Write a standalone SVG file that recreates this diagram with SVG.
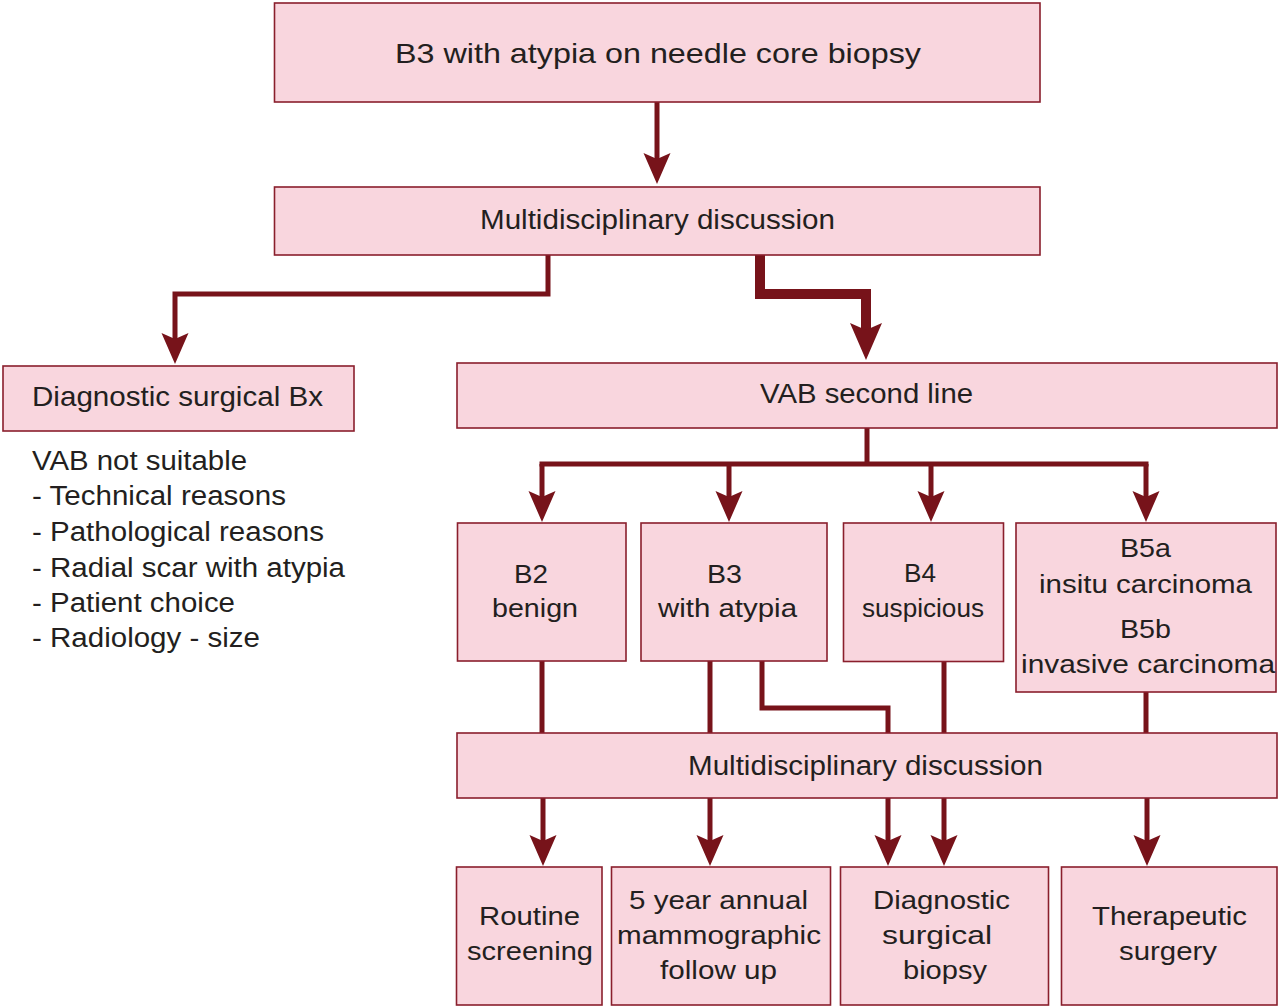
<svg xmlns="http://www.w3.org/2000/svg" width="1280" height="1008" viewBox="0 0 1280 1008">
<style>
.box{fill:#f9d6de;stroke:#8a1f2c;stroke-width:1.6}
.t{font-family:"Liberation Sans",Arial,sans-serif;fill:#231f20;text-anchor:middle}
.tl{font-family:"Liberation Sans",Arial,sans-serif;fill:#231f20;font-size:27px}
.c{fill:none;stroke:#77131a;stroke-width:5;stroke-linejoin:miter}
.ct{fill:none;stroke:#77131a;stroke-width:10;stroke-linejoin:miter}
</style>
<defs>
<marker id="ah" markerUnits="userSpaceOnUse" viewBox="0 -14 32 28" markerWidth="32" markerHeight="28" refX="8" refY="0" orient="auto">
<path d="M0,-13.5 L31,0 L0,13.5 L6,0 Z" fill="#77131a"/>
</marker>
<marker id="ahb" markerUnits="userSpaceOnUse" viewBox="0 -17 38 34" markerWidth="38" markerHeight="34" refX="9" refY="0" orient="auto">
<path d="M0,-16 L37,0 L0,16 L7,0 Z" fill="#77131a"/>
</marker>
</defs>
<rect width="1280" height="1008" fill="#ffffff"/>

<g id="connectors">
<path class="c" d="M657,102 V161" marker-end="url(#ah)"/>
<path class="c" d="M548,255 V294 H175 V341" marker-end="url(#ah)"/>
<path class="ct" d="M760,255 V294 H866 V332" marker-end="url(#ahb)"/>
<path class="c" d="M867,428 V464"/>
<path class="c" d="M542,464 H1146" stroke-linecap="square"/>
<path class="c" d="M542,464 V499" marker-end="url(#ah)"/>
<path class="c" d="M729,464 V499" marker-end="url(#ah)"/>
<path class="c" d="M931,464 V499" marker-end="url(#ah)"/>
<path class="c" d="M1146,464 V499" marker-end="url(#ah)"/>
<path class="c" d="M542,661 V733"/>
<path class="c" d="M710,661 V733"/>
<path class="c" d="M762,661 V708 H888 V733"/>
<path class="c" d="M944,661 V733"/>
<path class="c" d="M1146,692 V733"/>
<path class="c" d="M543,798 V843" marker-end="url(#ah)"/>
<path class="c" d="M710,798 V843" marker-end="url(#ah)"/>
<path class="c" d="M888,798 V843" marker-end="url(#ah)"/>
<path class="c" d="M944,798 V843" marker-end="url(#ah)"/>
<path class="c" d="M1147,798 V843" marker-end="url(#ah)"/>
</g>

<g id="n-start">
<rect class="box" x="274.5" y="3" width="765.5" height="99"/>
<text class="t" x="658" y="63" font-size="28.5" textLength="526" lengthAdjust="spacingAndGlyphs">B3 with atypia on needle core biopsy</text>
</g>

<g id="n-mdt1">
<rect class="box" x="274.5" y="187" width="765.5" height="68"/>
<text class="t" x="657.5" y="229" font-size="27" textLength="355" lengthAdjust="spacingAndGlyphs">Multidisciplinary discussion</text>
</g>

<g id="n-diagbx">
<rect class="box" x="3" y="366" width="351" height="65"/>
<text class="t" x="177.5" y="406" font-size="28" textLength="291" lengthAdjust="spacingAndGlyphs">Diagnostic surgical Bx</text>
</g>

<g id="n-notsuitable">
<text class="tl" x="32" y="470" textLength="215" lengthAdjust="spacingAndGlyphs">VAB not suitable</text>
<text class="tl" x="32" y="505" textLength="254" lengthAdjust="spacingAndGlyphs">- Technical reasons</text>
<text class="tl" x="32" y="541" textLength="292" lengthAdjust="spacingAndGlyphs">- Pathological reasons</text>
<text class="tl" x="32" y="577" textLength="313" lengthAdjust="spacingAndGlyphs">- Radial scar with atypia</text>
<text class="tl" x="32" y="612" textLength="203" lengthAdjust="spacingAndGlyphs">- Patient choice</text>
<text class="tl" x="32" y="647" textLength="228" lengthAdjust="spacingAndGlyphs">- Radiology - size</text>
</g>

<g id="n-vab">
<rect class="box" x="457" y="363" width="820" height="65"/>
<text class="t" x="866.5" y="403" font-size="28.5" textLength="213" lengthAdjust="spacingAndGlyphs">VAB second line</text>
</g>

<g id="n-b2">
<rect class="box" x="457.5" y="523" width="168.5" height="138"/>
<text class="t" x="531" y="583" font-size="25.5" textLength="34" lengthAdjust="spacingAndGlyphs">B2</text>
<text class="t" x="535" y="617" font-size="25.5" textLength="86" lengthAdjust="spacingAndGlyphs">benign</text>
</g>

<g id="n-b3">
<rect class="box" x="641" y="523" width="186" height="138"/>
<text class="t" x="724.5" y="583" font-size="25.5" textLength="35" lengthAdjust="spacingAndGlyphs">B3</text>
<text class="t" x="727.5" y="617" font-size="25.5" textLength="139" lengthAdjust="spacingAndGlyphs">with atypia</text>
</g>

<g id="n-b4">
<rect class="box" x="843.5" y="523" width="160" height="138.5"/>
<text class="t" x="920" y="582" font-size="25.5" textLength="32" lengthAdjust="spacingAndGlyphs">B4</text>
<text class="t" x="923" y="617" font-size="25.5" textLength="122" lengthAdjust="spacingAndGlyphs">suspicious</text>
</g>

<g id="n-b5">
<rect class="box" x="1016" y="523" width="260" height="169"/>
<text class="t" x="1145.5" y="557" font-size="25.5" textLength="51" lengthAdjust="spacingAndGlyphs">B5a</text>
<text class="t" x="1145.5" y="593" font-size="25.5" textLength="213" lengthAdjust="spacingAndGlyphs">insitu carcinoma</text>
<text class="t" x="1145.5" y="638" font-size="25.5" textLength="51" lengthAdjust="spacingAndGlyphs">B5b</text>
<text class="t" x="1148" y="673" font-size="25.5" textLength="254" lengthAdjust="spacingAndGlyphs">invasive carcinoma</text>
</g>

<g id="n-mdt2">
<rect class="box" x="457" y="733" width="820" height="65"/>
<text class="t" x="865.5" y="775" font-size="27" textLength="355" lengthAdjust="spacingAndGlyphs">Multidisciplinary discussion</text>
</g>

<g id="n-routine">
<rect class="box" x="456.5" y="867" width="145.5" height="138"/>
<text class="t" x="529.5" y="925" font-size="26" textLength="101" lengthAdjust="spacingAndGlyphs">Routine</text>
<text class="t" x="530" y="960" font-size="26" textLength="126" lengthAdjust="spacingAndGlyphs">screening</text>
</g>

<g id="n-followup">
<rect class="box" x="611.5" y="867" width="219" height="138"/>
<text class="t" x="718.5" y="909" font-size="26" textLength="179" lengthAdjust="spacingAndGlyphs">5 year annual</text>
<text class="t" x="719" y="944" font-size="26" textLength="204" lengthAdjust="spacingAndGlyphs">mammographic</text>
<text class="t" x="718.5" y="979" font-size="26" textLength="117" lengthAdjust="spacingAndGlyphs">follow up</text>
</g>

<g id="n-diagbiopsy">
<rect class="box" x="840.5" y="867" width="208" height="138"/>
<text class="t" x="941.5" y="909" font-size="26" textLength="137" lengthAdjust="spacingAndGlyphs">Diagnostic</text>
<text class="t" x="937" y="944" font-size="26" textLength="110" lengthAdjust="spacingAndGlyphs">surgical</text>
<text class="t" x="945" y="979" font-size="26" textLength="84" lengthAdjust="spacingAndGlyphs">biopsy</text>
</g>

<g id="n-therapeutic">
<rect class="box" x="1061.5" y="867" width="215.5" height="138"/>
<text class="t" x="1169.5" y="925" font-size="26" textLength="155" lengthAdjust="spacingAndGlyphs">Therapeutic</text>
<text class="t" x="1168" y="960" font-size="26" textLength="98" lengthAdjust="spacingAndGlyphs">surgery</text>
</g>
</svg>
